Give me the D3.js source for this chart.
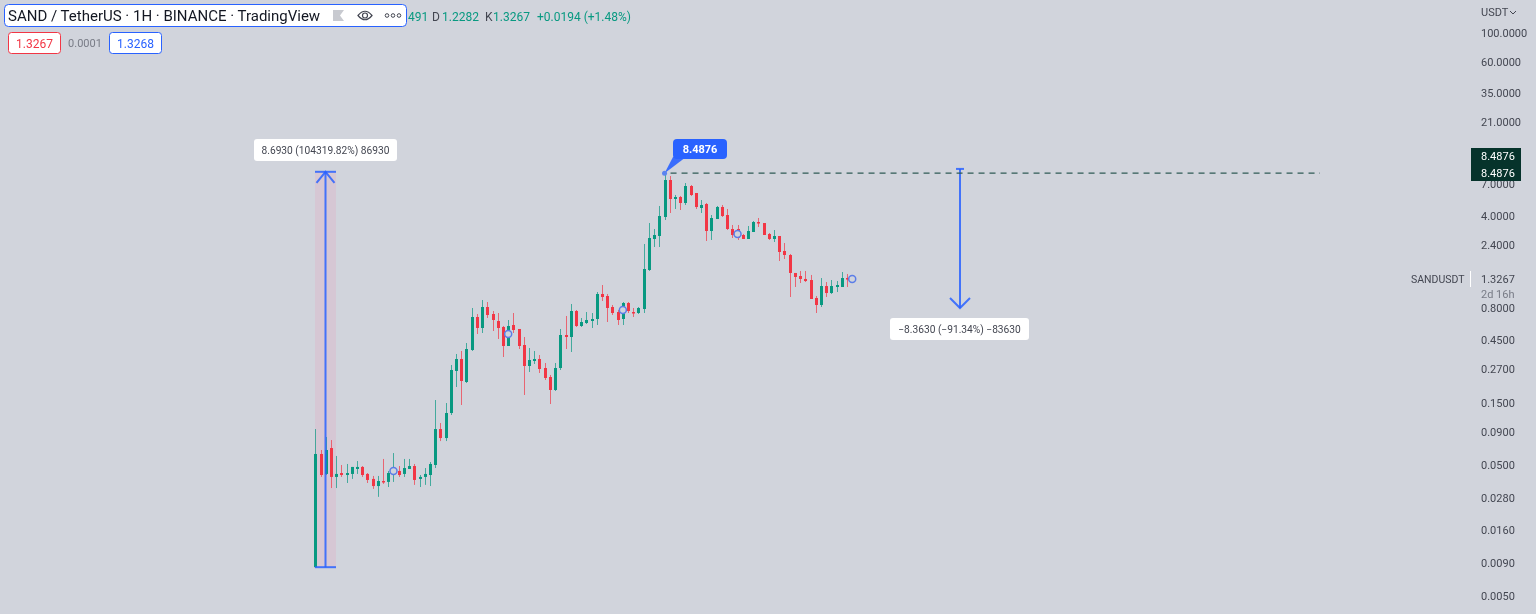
<!DOCTYPE html>
<html>
<head>
<meta charset="utf-8">
<title>SAND / TetherUS</title>
<script src="https://cdnjs.cloudflare.com/ajax/libs/d3/7.8.5/d3.min.js"></script>
<style>
html, body { margin: 0; padding: 0; background: #d1d4dc; overflow: hidden; }
svg { filter: blur(0.35px); }
text { font-family: Roboto, "Noto Sans", sans-serif; }
.price-axis text { font-size: 11px; fill: #434651; }
.price-axis path, .price-axis line { display: none; }
</style>
</head>
<body>
<div id="chart"></div>
<script>
// hourly candles
const opens = [0.0083,0.0608,0.0428,0.0675,0.0406,0.0435,0.0420,0.0428,0.0467,0.0484,0.0428,0.0392,0.0346,0.0378,0.0372,0.0428,0.0451,0.0428,0.0467,0.0492,0.0392,0.0406,0.0420,0.0501,0.0943,0.0805,0.1250,0.2618,0.3233,0.2157,0.3787,0.6767,0.5577,0.8068,0.7133,0.6307,0.5676,0.4063,0.5879,0.5480,0.4135,0.2858,0.3121,0.3233,0.2759,0.2355,0.1874,0.2759,0.4930,0.4760,0.7520,0.5777,0.6089,0.6307,0.6533,1.0142,0.9791,0.8068,0.7388,0.6533,0.8656,0.7388,0.7260,0.7790,1.547,2.669,2.813,3.930,7.533,5.394,5.586,5.027,6.779,5.993,4.604,4.939,3.072,3.793,4.686,4.070,3.182,3.182,2.863,2.669,3.018,3.598,3.535,2.914,2.669,2.813,2.161,2.014,1.468,1.392,1.321,1.297,0.9453,0.8358,1.167,1.032,1.147,1.147,1.343];
const highs = [0.0943,0.0652,0.0820,0.0777,0.0587,0.0501,0.0510,0.0484,0.0537,0.0492,0.0435,0.0413,0.0413,0.0557,0.0451,0.0618,0.0492,0.0557,0.0557,0.0510,0.0420,0.0475,0.0528,0.1571,0.1048,0.1490,0.2909,0.3530,0.3721,0.4283,0.7928,0.7133,0.9125,0.8809,0.7520,0.7260,0.5777,0.6419,0.7260,0.5480,0.4760,0.3923,0.3721,0.3468,0.3013,0.2440,0.3013,0.5480,0.6887,0.8506,0.7653,0.6649,0.7388,0.7260,1.0504,1.1879,1.0142,0.8358,0.7653,0.8809,0.8809,0.7928,0.8068,2.444,3.535,3.182,4.769,8.4876,8.083,5.787,5.686,7.146,6.899,5.993,5.299,5.027,4.070,4.769,4.853,4.524,3.414,3.414,2.914,3.354,3.662,3.861,3.535,2.965,3.126,2.813,2.487,2.050,1.468,1.520,1.520,1.417,0.9791,1.343,1.252,1.297,1.274,1.493,1.442];
const lows = [0.0083,0.0406,0.0420,0.0334,0.0334,0.0406,0.0365,0.0392,0.0428,0.0406,0.0365,0.0329,0.0286,0.0359,0.0340,0.0372,0.0406,0.0406,0.0467,0.0353,0.0340,0.0353,0.0346,0.0475,0.0763,0.0763,0.1207,0.1975,0.1439,0.2119,0.3721,0.5017,0.5106,0.6649,0.5289,0.4596,0.3348,0.4063,0.5106,0.3854,0.1716,0.2572,0.2960,0.2527,0.2234,0.1464,0.1841,0.2664,0.3854,0.3656,0.5676,0.5676,0.5983,0.5577,0.5879,0.8966,0.6197,0.7009,0.5879,0.5879,0.7260,0.6767,0.7133,0.7260,1.520,2.318,2.318,3.727,4.216,4.524,4.444,4.853,5.686,4.524,4.216,2.576,2.622,3.793,3.930,3.126,2.716,2.622,2.669,2.669,3.018,3.295,2.863,2.622,2.531,1.812,1.877,0.9620,1.147,1.230,1.252,0.9288,0.7260,0.8068,0.9621,1.0142,1.050,1.147,1.147];
const closes = [0.0608,0.0420,0.0652,0.0406,0.0428,0.0420,0.0435,0.0484,0.0484,0.0420,0.0385,0.0346,0.0378,0.0372,0.0435,0.0475,0.0420,0.0475,0.0492,0.0385,0.0406,0.0428,0.0510,0.0943,0.0805,0.1250,0.2664,0.3233,0.2195,0.3854,0.6767,0.5577,0.8068,0.7009,0.6419,0.5577,0.4063,0.5777,0.5383,0.4063,0.2858,0.3176,0.3233,0.2711,0.2314,0.1874,0.2759,0.4930,0.4760,0.7520,0.5777,0.6197,0.6419,0.6533,1.0142,0.9621,0.7928,0.7260,0.6419,0.8656,0.7520,0.7260,0.7928,1.574,2.716,2.863,3.999,7.533,5.394,5.586,5.027,6.779,5.787,4.686,4.853,3.072,3.861,4.686,3.999,3.182,2.863,2.716,2.669,3.072,3.598,3.535,2.863,2.669,2.813,2.123,2.014,1.468,1.368,1.321,1.274,0.9288,0.8358,1.167,1.032,1.167,1.188,1.343,1.3267];

const tickValues = [100, 60, 35, 21, 7, 4, 2.4, 0.8, 0.45, 0.27, 0.15, 0.09, 0.05, 0.028, 0.016, 0.009, 0.005];

const markerIndex = [15, 37, 59, 81, 103];
const markerPrice = [0.0451, 0.5017, 0.7653, 2.914, 1.321];

const highPrice = 8.4876;
const lastPrice = 1.3267;
const upMeasure = [0.0083, 8.7013];
const downMeasure = [9.156, 0.793];

const green = '#089981';
const red = '#f23645';
const blue = '#2962ff';

const width = 1536;
const height = 614;

const svg = d3.select('#chart')
    .append('svg')
    .attr('width', width)
    .attr('height', height)
    .style('display', 'block');

const xScale = d3.scaleLinear().domain([0, 102]).range([315.3, 847]);
const yScale = d3.scaleLog().domain([100, 0.005]).range([33, 596]);

// measure rectangle goes under the candles
svg.append('rect')
    .attr('x', 315)
    .attr('y', yScale(upMeasure[1]))
    .attr('width', 21)
    .attr('height', yScale(upMeasure[0]) - yScale(upMeasure[1]))
    .attr('fill', '#d6c7d4');

const candles = svg.append('g').selectAll('g')
    .data(opens.map((o, i) => ({ i, o, h: highs[i], l: lows[i], c: closes[i] })))
    .enter()
    .append('g')
    .attr('fill', d => d.c >= d.o ? green : red)
    .attr('stroke', d => d.c >= d.o ? green : red);

candles.append('line')
    .attr('x1', d => Math.round(xScale(d.i)) + 0.5)
    .attr('x2', d => Math.round(xScale(d.i)) + 0.5)
    .attr('y1', d => yScale(d.h))
    .attr('y2', d => yScale(d.l))
    .attr('stroke-opacity', 0.7);

candles.append('rect')
    .attr('x', d => Math.round(xScale(d.i)) - 1)
    .attr('width', 3)
    .attr('y', d => yScale(Math.max(d.o, d.c)))
    .attr('height', d => Math.max(1.5, Math.abs(yScale(d.o) - yScale(d.c))))
    .attr('stroke', 'none');

// up measure
const upX = 325.5;
const upTop = yScale(upMeasure[1]);
const upBottom = yScale(upMeasure[0]);
const upArrow = svg.append('g').attr('stroke', blue).attr('stroke-width', 2).attr('fill', 'none').attr('stroke-opacity', 0.85);
upArrow.append('line').attr('x1', upX).attr('x2', upX).attr('y1', upTop).attr('y2', upBottom);
upArrow.append('line').attr('x1', 315).attr('x2', 336).attr('y1', upTop).attr('y2', upTop);
upArrow.append('line').attr('x1', 315).attr('x2', 336).attr('y1', upBottom).attr('y2', upBottom);
upArrow.append('path').attr('d', `M${upX - 9},${upTop + 11}L${upX},${upTop}L${upX + 9},${upTop + 11}`);

// down measure
const downX = 960;
const downTop = yScale(downMeasure[0]);
const downBottom = yScale(downMeasure[1]);
const downArrow = svg.append('g').attr('stroke', blue).attr('stroke-width', 2).attr('fill', 'none').attr('stroke-opacity', 0.85);
downArrow.append('line').attr('x1', downX).attr('x2', downX).attr('y1', downTop).attr('y2', downBottom);
downArrow.append('line').attr('x1', downX - 4).attr('x2', downX + 4).attr('y1', downTop).attr('y2', downTop);
downArrow.append('path').attr('d', `M${downX - 10},${downBottom - 10}L${downX},${downBottom}L${downX + 10},${downBottom - 10}`);

// high price line and callout
const highY = yScale(highPrice);
svg.append('line')
    .attr('x1', xScale(67) + 6)
    .attr('x2', 1320)
    .attr('y1', highY)
    .attr('y2', highY)
    .attr('stroke', '#2f5a55')
    .attr('stroke-width', 1.2)
    .attr('stroke-dasharray', '6,5');

svg.append('path')
    .attr('d', `M${xScale(67)},${highY}L673,157L686,157Z`)
    .attr('fill', blue)
    .attr('fill-opacity', 0.9);
svg.append('circle')
    .attr('cx', xScale(67))
    .attr('cy', highY)
    .attr('r', 2.5)
    .attr('fill', '#5b84f0');
svg.append('rect')
    .attr('x', 673).attr('y', 139).attr('width', 54).attr('height', 20).attr('rx', 4)
    .attr('fill', blue);
svg.append('text')
    .attr('x', 700).attr('y', 153)
    .attr('text-anchor', 'middle')
    .attr('fill', '#fff')
    .attr('font-size', 11)
    .attr('font-weight', 700)
    .text('8.4876');

// measure labels
function measureLabel(x, y, w, h, label) {
    svg.append('rect')
        .attr('x', x).attr('y', y).attr('width', w).attr('height', h).attr('rx', 3)
        .attr('fill', '#fff');
    svg.append('text')
        .attr('x', x + w / 2).attr('y', y + h / 2 + 3.5)
        .attr('text-anchor', 'middle')
        .attr('fill', '#434651')
        .attr('font-size', 10.2)
        .text(label);
}
measureLabel(254, 139, 143, 22, '8.6930 (104319.82%) 86930');
measureLabel(890, 318, 139, 22, '\u22128.3630 (\u221291.34%) \u221283630');

// signal rings
svg.append('g').selectAll('circle')
    .data(markerIndex.map((d, i) => ({ i: d, p: markerPrice[i] })))
    .enter()
    .append('circle')
    .attr('cx', d => xScale(d.i))
    .attr('cy', d => yScale(d.p))
    .attr('r', 3.5)
    .attr('fill', '#d1d4dc')
    .attr('stroke', '#5b7de8')
    .attr('stroke-width', 1.5);

// price axis
svg.append('g')
    .attr('class', 'price-axis')
    .attr('transform', 'translate(1481,0)')
    .call(d3.axisRight(yScale).tickValues(tickValues).tickSize(0).tickPadding(0).tickFormat(d3.format('.4f')));

svg.append('text').attr('x', 1481).attr('y', 16).attr('font-size', 11).attr('fill', '#434651').text('USDT');
svg.append('path').attr('d', 'M1510,11L1513,14L1516,11').attr('fill', 'none').attr('stroke', '#434651').attr('stroke-width', 1);

svg.append('rect').attr('x', 1471).attr('y', 148).attr('width', 50).attr('height', 33).attr('fill', '#06332b');
svg.append('text').attr('x', 1481).attr('y', yScale(highPrice) - 13).attr('font-size', 11).attr('fill', '#fff').text('8.4876');
svg.append('text').attr('x', 1481).attr('y', yScale(highPrice) + 4).attr('font-size', 11).attr('fill', '#fff').text('8.4876');

svg.append('text').attr('x', 1411).attr('y', 283).attr('font-size', 10.5).attr('fill', '#434651').text('SANDUSDT');
svg.append('line').attr('x1', 1470.5).attr('x2', 1470.5).attr('y1', 271).attr('y2', 287).attr('stroke', '#fff');
svg.append('text').attr('x', 1481).attr('y', yScale(lastPrice) + 4).attr('font-size', 11).attr('fill', '#434651').text('1.3267');
svg.append('text').attr('x', 1481).attr('y', 298).attr('font-size', 11).attr('fill', '#787b86').text('2d 16h');

// legend, the title box sits over the start of the OHLC row
const legend = svg.append('g').attr('font-size', 12);
[[408, '491', green], [432, 'D', '#434651'], [442, '1.2282', green], [485, 'K', '#434651'], [493, '1.3267', green], [537, '+0.0194 (+1.48%)', green]]
    .forEach(t => {
        legend.append('text').attr('x', t[0]).attr('y', 21).attr('fill', t[2]).text(t[1]);
    });

svg.append('rect')
    .attr('x', 4.5).attr('y', 4.5).attr('width', 402).attr('height', 22).attr('rx', 4)
    .attr('fill', '#fff')
    .attr('stroke', blue);
svg.append('text')
    .attr('x', 8).attr('y', 21)
    .attr('font-size', 15)
    .attr('fill', '#131722')
    .text('SAND / TetherUS \u00b7 1H \u00b7 BINANCE \u00b7 TradingView');

svg.append('path').attr('d', 'M333,10H344L340,15.5L344,21H333Z').attr('fill', '#c8cad0');
svg.append('path').attr('d', 'M358,15.5Q365,7 372,15.5Q365,24 358,15.5Z').attr('fill', 'none').attr('stroke', '#434651').attr('stroke-width', 1.2);
svg.append('circle').attr('cx', 365).attr('cy', 15.5).attr('r', 2.5).attr('fill', 'none').attr('stroke', '#434651').attr('stroke-width', 1.2);
svg.append('g').selectAll('circle')
    .data([387, 393, 399])
    .enter()
    .append('circle')
    .attr('cx', d => d).attr('cy', 15.5).attr('r', 1.8)
    .attr('fill', 'none').attr('stroke', '#434651');

svg.append('rect').attr('x', 8.5).attr('y', 32.5).attr('width', 52).attr('height', 21).attr('rx', 3).attr('fill', '#fff').attr('stroke', red);
svg.append('text').attr('x', 34.5).attr('y', 47.5).attr('text-anchor', 'middle').attr('font-size', 12).attr('fill', red).text('1.3267');
svg.append('text').attr('x', 85).attr('y', 47).attr('text-anchor', 'middle').attr('font-size', 11).attr('fill', '#787b86').text('0.0001');
svg.append('rect').attr('x', 109.5).attr('y', 32.5).attr('width', 52).attr('height', 21).attr('rx', 3).attr('fill', '#fff').attr('stroke', blue);
svg.append('text').attr('x', 135.5).attr('y', 47.5).attr('text-anchor', 'middle').attr('font-size', 12).attr('fill', blue).text('1.3268');
</script>
</body>
</html>
